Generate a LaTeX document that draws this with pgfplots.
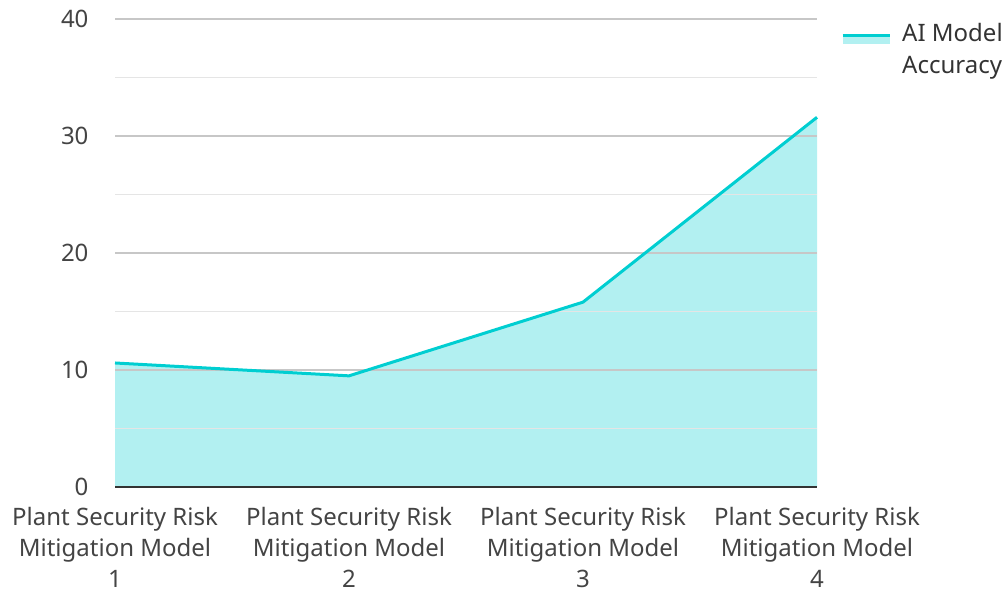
\documentclass[border=0pt]{standalone}
\usepackage{fontspec}
\setmainfont{Noto Sans}
\usepackage{pgfplots}
\pgfplotsset{compat=1.18}
\definecolor{turq}{RGB}{0,206,209}
\definecolor{txt}{RGB}{68,68,68}
\begin{document}
\begin{tikzpicture}
\begin{axis}[
  set layers,
  at={(115pt,103pt)}, anchor=south west,
  width=702pt, height=468pt, scale only axis,
  xmin=0, xmax=3, ymin=0, ymax=40,
  xtick={0,1,2,3},
  xticklabels={{Plant Security Risk\\Mitigation Model\\1},{Plant Security Risk\\Mitigation Model\\2},{Plant Security Risk\\Mitigation Model\\3},{Plant Security Risk\\Mitigation Model\\4}},
  xticklabel style={align=center, font=\fontsize{24}{31}\selectfont, text=txt, yshift=-17pt},
  ytick={0,10,20,30,40},
  minor ytick={5,15,25,35},
  yticklabel style={font=\fontsize{24}{28}\selectfont, text=txt, xshift=-23pt},
  /pgf/number format/assume math mode=true,
  ymajorgrids, yminorgrids,
  major grid style={draw=black!22, line width=1.2pt},
  minor grid style={draw=black!10, line width=1.2pt},
  axis x line=bottom, axis y line=left,
  axis line style={-},
  x axis line style={draw=black!80, line width=2pt},
  y axis line style={draw=none},
  major tick length=0pt, minor tick length=0pt,
  tick style={draw=none},
  axis on top,
  legend style={at={(1.0,1.0)}, anchor=north west, xshift=21pt, yshift=0pt, draw=none, fill=none,
    font=\fontsize{24}{32}\selectfont, text=black!80, cells={align=left}, column sep=9pt},
  legend cell align=left,
]
\addplot[draw=none, fill=turq, fill opacity=0.3, forget plot] coordinates {(0,10.6) (1,9.5) (2,15.8) (3,31.6)} \closedcycle;
\addplot[on layer=axis foreground, color=turq, line width=3pt,
  legend image code/.code={
    \path[fill=turq, fill opacity=0.3, draw=none] (0pt,5pt) rectangle (47pt,14pt);
    \draw[turq, line width=3pt] (0pt,14pt) -- (47pt,14pt);
  }] coordinates {(0,10.6) (1,9.5) (2,15.8) (3,31.6)};
\addlegendentry{AI Model\\Accuracy}
\end{axis}
\pgfresetboundingbox
\path[use as bounding box] (0pt,0pt) rectangle (1007pt,590pt);
\end{tikzpicture}
\end{document}
